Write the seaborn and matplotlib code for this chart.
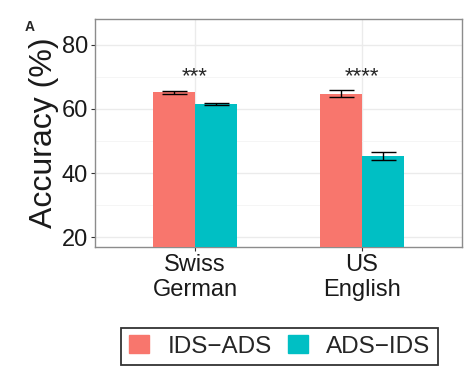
import matplotlib
matplotlib.use("Agg")
import matplotlib.pyplot as plt
import numpy as np
import pandas as pd
import seaborn as sns

# values
languages = ["Swiss\nGerman", "US\nEnglish"]
conditions = ["IDS\u2212ADS", "ADS\u2212IDS"]
acc_ids_ads = [65.2, 64.8]
acc_ads_ids = [61.6, 45.4]
se_ids_ads = [0.5, 1.1]
se_ads_ids = [0.4, 1.2]
stars = ["***", "****"]
star_y = 70.0

palette = {conditions[0]: "#F8766D", conditions[1]: "#00BFC4"}

df = pd.DataFrame({
    "language": languages * 2,
    "condition": [conditions[0]] * 2 + [conditions[1]] * 2,
    "accuracy": acc_ids_ads + acc_ads_ids,
    "se": se_ids_ads + se_ads_ids,
})

sns.set_style("white")
plt.rcParams["font.family"] = ["Liberation Sans", "DejaVu Sans"]

fig = plt.figure(figsize=(4.74, 3.75), dpi=100)
ax = fig.add_axes([0.2004, 0.3413, 0.7743, 0.608])

sns.barplot(data=df, x="language", y="accuracy", hue="condition",
            hue_order=conditions, order=languages, palette=palette,
            width=0.5, gap=0, errorbar=None, saturation=1, linewidth=0,
            ax=ax, zorder=3)

# error bars on top of each bar, positions from the drawn bars
for idx, cond in enumerate(conditions):
    sub = df[df.condition == cond].set_index("language").loc[languages]
    bars = ax.containers[idx]
    xs = [b.get_x() + b.get_width() / 2 for b in bars]
    ax.errorbar(xs, sub["accuracy"], yerr=sub["se"], fmt="none",
                ecolor="black", elinewidth=1, capsize=9, capthick=1, zorder=4)

for i, s in enumerate(stars):
    ax.text(i, star_y, s, ha="center", va="center", fontsize=16, zorder=5)

ax.set_ylim(16.9, 88.1)
ax.set_xlim(-0.6, 1.6)
ax.set_yticks([20, 40, 60, 80])
ax.set_yticks([30, 50, 70], minor=True)
ax.grid(True, which="major", color="#EBEBEB", linewidth=1, zorder=0)
ax.grid(True, which="minor", axis="y", color="#F4F4F4", linewidth=0.6, zorder=0)
ax.set_axisbelow(True)
for sp in ax.spines.values():
    sp.set_color("#8C8C8C")
    sp.set_linewidth(1)
ax.tick_params(axis="both", which="major", length=3, color="#333333",
               labelsize=17, labelcolor="#1A1A1A", pad=2, left=True, bottom=True)
ax.tick_params(axis="y", which="minor", length=0)
ax.set_xlabel("")
ax.set_ylabel("Accuracy (%)", fontsize=23, color="#1A1A1A", labelpad=2)

ax.get_legend().remove()
handles = [plt.Rectangle((0, 0), 1, 1, color=palette[c]) for c in conditions]
leg = fig.legend(handles, conditions, loc="center", ncol=2,
                 bbox_to_anchor=(0.59, 0.076), fontsize=17.5, frameon=True,
                 fancybox=False, edgecolor="black", handlelength=0.85,
                 handleheight=0.75, handletextpad=0.75, columnspacing=0.65,
                 borderpad=0.3, borderaxespad=0)
leg.get_frame().set_linewidth(1.3)

fig.text(0.063, 0.928, "A", fontsize=10, fontweight="bold", ha="center", va="center")

fig.savefig("out.png", dpi=100, facecolor="white")
